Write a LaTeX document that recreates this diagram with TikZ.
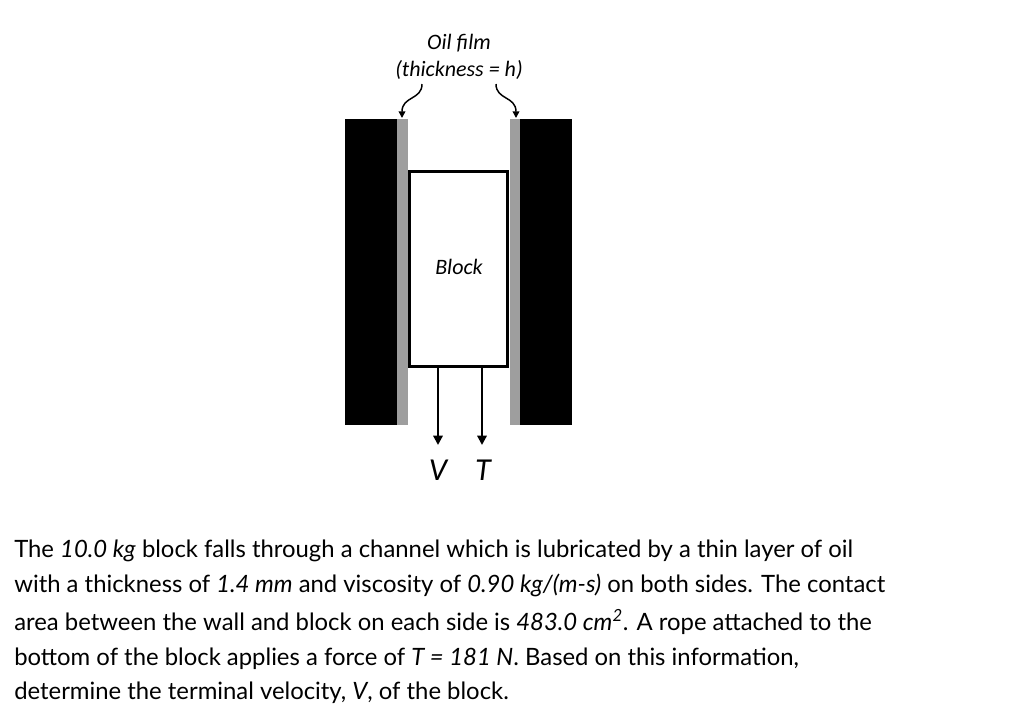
\documentclass[tikz,border=0pt]{standalone}
\usepackage{fontspec}
\setmainfont{Lato}
\newfontfamily\carl{Carlito}
\usetikzlibrary{arrows.meta}
\begin{document}
\begin{tikzpicture}[x=0.75pt,y=-0.75pt,
  wall/.style={fill=black},
  oil/.style={fill=black!38},
  lbl/.style={font=\carl\itshape\fontsize{16.5}{18}\selectfont},
  para/.style={anchor=base west,inner sep=0pt,font=\fontsize{17.9}{20}\selectfont},
  arr/.style={line width=1.6pt,-{Triangle[length=7pt,width=7pt]}}]
\useasboundingbox (0,0) rectangle (1024,714);
\fill[wall] (345,119) rectangle (397,425);
\fill[oil] (397,119) rectangle (408,425);
\fill[oil] (510,119) rectangle (520,425);
\fill[wall] (520,119) rectangle (572,425);
\draw[line width=2.2pt] (409.5,171.5) rectangle (507.5,366.5);
\node[lbl] (bl) at (459,267) {Block};
\node[lbl] (oil1) at (459,43) {Oil film};
\node[lbl] (oil2) at (459,70) {(thickness = h)};
\coordinate (la) at (422,84);
\coordinate (lb) at (402,118);
\coordinate (ra) at (496,84);
\coordinate (rb) at (516,118);
\draw[line width=1.1pt,-{Triangle[length=5pt,width=5pt]}] (la) .. controls (422,100) and (402,96) .. (lb);
\draw[line width=1.1pt,-{Triangle[length=5pt,width=5pt]}] (ra) .. controls (496,100) and (516,96) .. (rb);
\coordinate (v0) at (438,367);
\coordinate (v1) at (438,445);
\coordinate (t0) at (482,367);
\coordinate (t1) at (482,445);
\draw[arr] (v0) -- (v1);
\draw[arr] (t0) -- (t1);
\node[font=\carl\itshape\fontsize{24}{26}\selectfont] (V) at (438,470) {V};
\node[font=\carl\itshape\fontsize{24}{26}\selectfont] (T) at (483,470) {T};
\node[para] (p1) at (14,557) {The \textit{10.0 kg} block falls through a channel which is lubricated by a thin layer of oil};
\node[para] (p2) at (14,592) {with a thickness of \textit{1.4 mm} and viscosity of \textit{0.90 kg/(m-s)} on both sides. The contact};
\node[para] (p3) at (14,630) {area between the wall and block on each side is \textit{483.0 cm\textsuperscript{2}}. A rope attached to the};
\node[para] (p4) at (14,665) {bottom of the block applies a force of \textit{T = 181 N}. Based on this information,};
\node[para] (p5) at (14,699) {determine the terminal velocity, \textit{V}, of the block.};
\end{tikzpicture}
\end{document}
